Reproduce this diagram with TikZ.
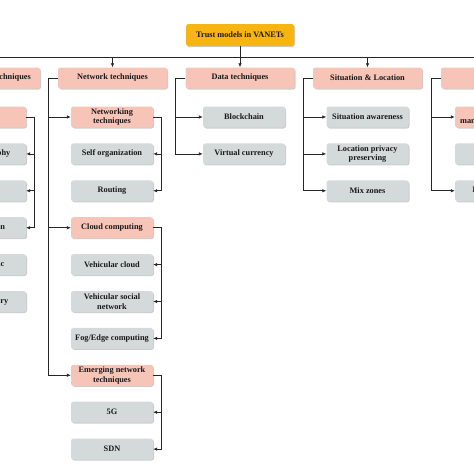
\documentclass[tikz,border=0pt]{standalone}
\usepackage{fontspec}
\setmainfont{Liberation Serif}
\usetikzlibrary{shadows,arrows.meta}

\definecolor{rootorange}{RGB}{248,180,18}
\definecolor{headpink}{RGB}{247,196,184}
\definecolor{leafgray}{RGB}{212,217,217}

\begin{document}
\begin{tikzpicture}[x=1pt, y=-1pt,
   box/.style={rounded corners=2.5pt, align=center, inner sep=1pt,
      font=\bfseries\fontsize{8.3}{9.6}\selectfont, text=black!90,
      drop shadow={shadow xshift=1pt, shadow yshift=-1pt, fill=black!50, opacity=0.4}},
   root/.style={box, fill=rootorange, minimum width=108pt, minimum height=22pt},
   head/.style={box, fill=headpink, minimum width=109pt, minimum height=21pt},
   sub/.style={box, fill=headpink, minimum width=82pt, minimum height=21pt},
   leaf/.style={box, fill=leafgray, minimum width=82pt, minimum height=21pt},
   arr/.style={-{Latex[length=4pt,width=3.5pt]}, black!85, line width=0.65pt}]

\useasboundingbox (0,0) rectangle (474,474);
\clip (0,0) rectangle (474,474);

% root and first level
\node[root] (root) at (240,35) {Trust models in VANETs};
\node[head] (crypto) at (-14.5,78) {Cryptography techniques};
\node[head] (net) at (112.5,78) {Network techniques};
\node[head] (data) at (240,78) {Data techniques};
\node[head] (sit) at (367.5,78) {Situation \& Location};
\node[head] (mgmt) at (495.5,78) {};

% left column
\node[sub] (lsub) at (-15,117) {};
\node[leaf] (lleaf1) at (-15,153.9) {Cryptography};
\node[leaf] (lleaf2) at (-15,190.8) {};
\node[leaf] (lleaf3) at (-15,227.7) {Encryption};
\node[leaf] (lleaf4) at (-15,264.6) {Symmetric};
\node[leaf] (lleaf5) at (-15,301.5) {Game theory};

% network column
\node[sub] (nwk) at (112,117) {Networking\\techniques};
\node[leaf] (selforg) at (112,153.9) {Self organization};
\node[leaf] (routing) at (112,190.8) {Routing};
\node[sub] (cloud) at (112,227.7) {Cloud computing};
\node[leaf] (vcloud) at (112,264.6) {Vehicular cloud};
\node[leaf] (vsn) at (112,301.5) {Vehicular social\\network};
\node[leaf] (fog) at (112,338.4) {Fog/Edge computing};
\node[sub] (emerg) at (112,375.3) {Emerging network\\techniques};
\node[leaf] (fiveg) at (112,412.2) {5G};
\node[leaf] (sdn) at (112,449.1) {SDN};

% data column
\node[leaf] (chain) at (244,117) {Blockchain};
\node[leaf] (vcur) at (244,153.9) {Virtual currency};

% situation column
\node[leaf] (aware) at (367.5,117) {Situation awareness};
\node[leaf] (lpp) at (367.5,153.9) {Location privacy\\preserving};
\node[leaf] (mix) at (367.5,190.8) {Mix zones};

% right column
\node[sub] (rsub) at (496,117) {Trust\\management system};
\node[leaf] (rleaf1) at (496,153.9) {};
\node[leaf] (rleaf2) at (496,190.8) {Identity trust};

% connectors
\draw[arr] (root) -- (data);
\foreach \h in {crypto,net,sit,mgmt}
    \draw[arr] (root.south) ++(0,11) -| (\h.north);
\foreach \h/\c in {crypto/lsub, crypto/lleaf4, crypto/lleaf5,
                   net/nwk, net/cloud, net/emerg,
                   data/chain, data/vcur,
                   sit/aware, sit/lpp, sit/mix,
                   mgmt/rsub, mgmt/rleaf2}
    \draw[arr] (\h.west) -- ++(-9.5,0) |- (\c.west);
\foreach \s/\c in {lsub/lleaf1, lsub/lleaf2, lsub/lleaf3,
                   nwk/selforg, nwk/routing,
                   cloud/vcloud, cloud/vsn, cloud/fog,
                   emerg/fiveg, emerg/sdn,
                   rsub/rleaf1}
    \draw[arr] (\s.east) -- ++(8.5,0) |- (\c.east);

\end{tikzpicture}
\end{document}
